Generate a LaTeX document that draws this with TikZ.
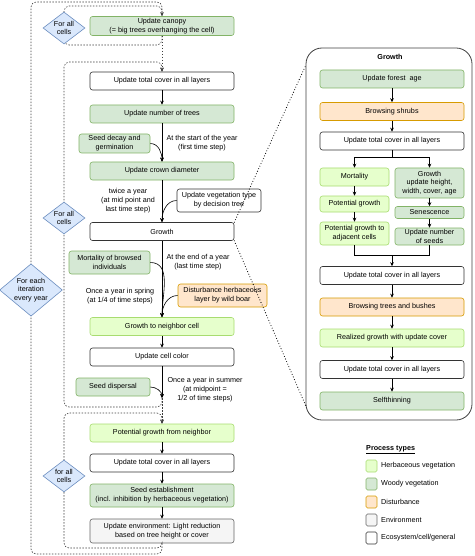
\documentclass[tikz,border=0pt]{standalone}
\usepackage{fontspec}
\setmainfont{Liberation Sans}
\usepackage{xcolor}
\usepackage{tikz}
\usetikzlibrary{arrows.meta,shapes.geometric}

% Process type colours
\definecolor{woodyfill}{HTML}{D5E8D4}
\definecolor{woodyline}{HTML}{82B366}
\definecolor{herbfill}{HTML}{E6FFCC}
\definecolor{herbline}{HTML}{A8DC70}
\definecolor{disturbfill}{HTML}{FFE6CC}
\definecolor{disturbline}{HTML}{D79B00}
\definecolor{envfill}{HTML}{F5F5F5}
\definecolor{envline}{HTML}{666666}
\definecolor{cellsfill}{HTML}{DAE8FC}
\definecolor{cellsline}{HTML}{6C8EBF}

\tikzset{
  procbox/.style={draw=black!80, fill=white, rounded corners=2.5pt, line width=0.6pt,
    inner sep=1pt, align=center, minimum height=18pt, minimum width=144pt},
  general/.style={procbox},
  woody/.style={procbox, draw=woodyline, fill=woodyfill},
  herb/.style={procbox, draw=herbline, fill=herbfill},
  disturb/.style={procbox, draw=disturbline, fill=disturbfill},
  env/.style={procbox, draw=envline, fill=envfill},
  note/.style={align=center, inner sep=0pt},
  cellsdiamond/.style={diamond, aspect=1.4, draw=cellsline, fill=cellsfill, line width=0.6pt,
    inner sep=0pt, align=center, minimum width=42pt, minimum height=32pt},
  flow/.style={line width=0.6pt, -{Stealth[length=4pt,width=3.6pt]}},
  loopline/.style={line width=0.6pt, draw=black!75, dash pattern=on 1.5pt off 1.5pt, rounded corners=5pt},
  zoomline/.style={line width=1.1pt, dash pattern=on 0pt off 2.8pt, line cap=round},
  panel/.style={draw=black!75, fill=white, rounded corners=16pt, line width=0.8pt},
  swatch/.style={procbox, minimum width=11pt, minimum height=12pt, rounded corners=1.5pt}
}

\begin{document}
\begin{tikzpicture}[x=1pt, y=-1pt, font=\fontsize{7.2pt}{8.8pt}\selectfont]
    % Parameters
    \def\mainX{162} % centre of the main column
    \def\loopX{64}  % left side of the per-cell loops
    \def\yearX{31}  % left side of the yearly loop

    \useasboundingbox (0,0) rectangle (474,556);

    % Canopy step
    \node[woody, minimum height=19pt] (canopy) at (\mainX,26) {Update canopy\\(= big trees overhanging the cell)};

    % Main per-cell steps
    \node[general] (totalA) at (\mainX,81) {Update total cover in all layers};
    \node[woody] (trees) at (\mainX,114) {Update number of trees};
    \node[woody, minimum width=71pt, minimum height=19pt] (seeddecay) at (114.5,143.5) {Seed decay and\\germination};
    \node[note] (startyear) at (202,143) {At the start of the year\\(first time step)};
    \node[woody] (crown) at (\mainX,171) {Update crown diameter};
    \node[note] (twice) at (128,200.5) {twice a year\\(at mid point and\\last time step)};
    \node[general, minimum width=84pt, minimum height=23pt] (vegtype) at (219,200.5) {Update vegetation type\\by decision tree};
    \node[general] (growth) at (\mainX,231.5) {Growth};
    \node[woody, minimum width=81pt, minimum height=23pt] (mortbrowse) at (109.5,262.5) {Mortality of browsed\\individuals};
    \node[note] (endyear) at (198,262.5) {At the end of a year\\(last time step)};
    \node[note] (spring) at (120,296.5) {Once a year in spring\\(at 1/4 of time steps)};
    \node[disturb, minimum width=89pt, minimum height=23pt] (boar) at (222.5,295.5) {Disturbance herbaceous\\layer by wild boar};
    \node[herb] (toneighbor) at (\mainX,326.5) {Growth to neighbor cell};
    \node[general] (cellcolor) at (\mainX,357) {Update cell color};
    \node[woody, minimum width=74pt] (seeddisp) at (113,387) {Seed dispersal};
    \node[note] (summer) at (205,389.5) {Once a year in summer\\(at midpoint =\\1/2 of time steps)};
    \coordinate (summerjoin) at (\mainX,398);

    % Neighbour steps
    \node[herb] (fromneighbor) at (\mainX,433) {Potential growth from neighbor};
    \node[general] (totalB) at (\mainX,463) {Update total cover in all layers};
    \node[woody, minimum height=23pt] (establish) at (\mainX,495.5) {Seed establishment\\(incl. inhibition by herbaceous vegetation)};
    \node[env, minimum height=24pt] (envupdate) at (\mainX,531) {Update environment: Light reduction\\based on tree height or cover};

    % Arrows of the main column
    \draw[flow, loopline, rounded corners=0pt] (canopy) -- (totalA);
    \draw[flow] (totalA) -- (trees);
    \draw[flow] (trees) -- (crown);
    \draw[flow] (seeddecay.east) to[out=0, in=90] (crown.north);
    \draw[flow] (crown) -- (growth);
    \draw[flow] (vegtype.west) to[out=180, in=90] (growth.north);
    \draw[flow] (growth) -- (toneighbor);
    \draw[flow] (mortbrowse.east) to[out=0, in=90] (toneighbor.north);
    \draw[flow] (boar.west) to[out=180, in=90] (toneighbor.north);
    \draw[flow] (toneighbor) -- (cellcolor);
    \draw[flow] (cellcolor) -- (summerjoin);
    \draw[flow] (seeddisp.east) to[out=0, in=90] (summerjoin);
    \draw[flow, loopline, rounded corners=0pt] (summerjoin) -- (fromneighbor);
    \draw[flow] (fromneighbor) -- (totalB);
    \draw[flow] (totalB) -- (establish);
    \draw[flow] (establish) -- (envupdate);

    % Loops
    \draw[loopline] (canopy.south) |- (\loopX,45) |- (\mainX,6) -- (canopy.north);
    \draw[loopline, flow] (summerjoin) |- (\loopX,407) |- (\mainX,62) -- (totalA.north);
    \draw[loopline, flow] (envupdate.south) |- (\loopX,548) |- (\mainX,413) -- (fromneighbor.north);
    \draw[loopline, flow] (envupdate.south) |- (\yearX,554) |- (\mainX,2) -- (canopy.north);

    % Loop labels
    \node[cellsdiamond] (cellsA) at (\loopX,28) {For all\\cells};
    \node[cellsdiamond] (cellsB) at (\loopX,218) {For all\\cells};
    \node[cellsdiamond] (cellsC) at (\loopX,476) {for all\\cells};
    \node[cellsdiamond, aspect=1.2, minimum width=60pt, minimum height=52pt] (eachyear) at (\yearX,290) {For each\\iteration\\every year};

    % Growth panel
    \node[panel, minimum width=166pt, minimum height=372pt] (growthpanel) at (389,234) {};
    \node (paneltitle) at (390,57) {\bfseries Growth};
    \node[woody] (forestage) at (392,79) {Update forest~ age};
    \node[disturb] (shrubs) at (392,111.5) {Browsing shrubs};
    \node[general] (totalC) at (392,141) {Update total cover in all layers};
    \coordinate (splitpt) at (392,157);
    \node[herb, minimum width=69pt] (mortality) at (354.5,177) {Mortality};
    \node[herb, minimum width=69pt, minimum height=16pt] (potgrowth) at (354.5,204) {Potential growth};
    \node[herb, minimum width=69pt, minimum height=23pt] (adjacent) at (354.5,233.5) {Potential growth to\\adjacent cells};
    \node[woody, minimum width=69pt, minimum height=30pt] (woodygrowth) at (429.5,183) {Growth\\update height,\\width, cover, age};
    \node[woody, minimum width=69pt, minimum height=12pt] (senescence) at (429.5,212.5) {Senescence};
    \node[woody, minimum width=69pt, minimum height=17pt] (seeds) at (429.5,236.5) {Update number\\of seeds};
    \coordinate (mergept) at (392,255);
    \node[general] (totalD) at (392,275.5) {Update total cover in all layers};
    \node[disturb] (browsetrees) at (392,307) {Browsing trees and bushes};
    \node[herb] (realized) at (392,338) {Realized growth with update cover};
    \node[general] (totalE) at (392,369.5) {Update total cover in all layers};
    \node[woody] (selfthin) at (392,401) {Selfthinning};

    % Arrows inside the panel
    \draw[flow] (forestage) -- (shrubs);
    \draw[flow] (shrubs) -- (totalC);
    \draw[line width=0.6pt] (totalC) -- (splitpt);
    \draw[flow] (splitpt) -| (mortality.north);
    \draw[flow] (splitpt) -| (woodygrowth.north);
    \draw[flow] (mortality) -- (potgrowth);
    \draw[flow] (potgrowth) -- (adjacent);
    \draw[flow] (woodygrowth) -- (senescence);
    \draw[flow] (senescence) -- (seeds);
    \draw[line width=0.6pt] (adjacent.south) |- (mergept);
    \draw[line width=0.6pt] (seeds.south) |- (mergept);
    \draw[flow] (mergept) -- (totalD);
    \draw[flow] (totalD) -- (browsetrees);
    \draw[flow] (browsetrees) -- (realized);
    \draw[flow] (realized) -- (totalE);
    \draw[flow] (totalE) -- (selfthin);

    % Dotted lines from Growth to the panel
    \draw[zoomline] (growth.north east) -- ([yshift=-18pt]growthpanel.north west);
    \draw[zoomline] (growth.south east) -- ([yshift=15pt]growthpanel.south west);

    % Legend
    \node[anchor=west, inner sep=0pt] (legendtitle) at (366,450) {\underline{\textbf{Process types}}};
    \node[swatch, draw=herbline, fill=herbfill] (keyherb) at (371.5,466) {};
    \node[anchor=west, inner sep=0pt] (keyherbtext) at (381,466) {Herbaceous vegetation};
    \node[swatch, draw=woodyline, fill=woodyfill] (keywoody) at (371.5,484) {};
    \node[anchor=west, inner sep=0pt] (keywoodytext) at (381,484) {Woody vegetation};
    \node[swatch, draw=disturbline, fill=disturbfill] (keydisturb) at (371.5,502) {};
    \node[anchor=west, inner sep=0pt] (keydisturbtext) at (381,502) {Disturbance};
    \node[swatch, draw=envline, fill=envfill] (keyenv) at (371.5,520) {};
    \node[anchor=west, inner sep=0pt] (keyenvtext) at (381,520) {Environment};
    \node[swatch] (keygeneral) at (371.5,538) {};
    \node[anchor=west, inner sep=0pt] (keygeneraltext) at (381,538) {Ecosystem/cell/general};

\end{tikzpicture}
\end{document}
